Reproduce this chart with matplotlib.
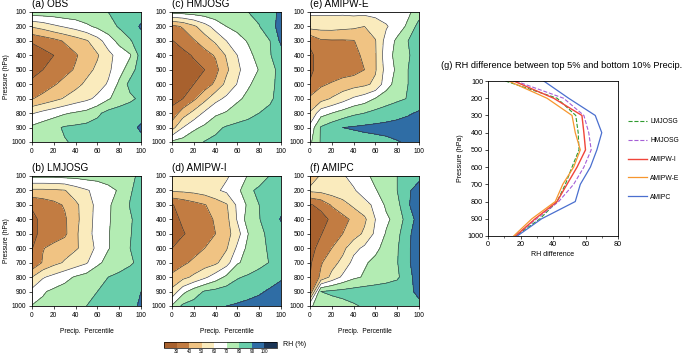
import numpy as np
import matplotlib
matplotlib.use('Agg')
import matplotlib.pyplot as plt
from matplotlib.colors import ListedColormap

plt.rcParams['font.family'] = ['Liberation Sans', 'DejaVu Sans']

# percentile bins and pressure levels
pct = [0, 10, 20, 30, 40, 50, 60, 70, 80, 90, 100]
lev = [100, 200, 300, 400, 500, 600, 700, 800, 900, 1000]

# RH (%) composites, one row per pressure level
rh_obs = [
    [76, 76, 76, 77, 77, 78, 78, 80, 83, 85, 86],
    [51, 54, 58, 61, 64, 68, 72, 76, 81, 86, 91],
    [31, 34, 37, 41, 45, 49, 56, 65, 73, 79, 86],
    [25, 27, 30, 35, 39, 44, 49, 57, 64, 69, 84],
    [27, 30, 33, 37, 41, 47, 52, 58, 66, 75, 86],
    [32, 35, 39, 43, 47, 52, 56, 61, 72, 83, 87],
    [39.5, 43, 47, 51, 55, 58, 62, 69, 74, 78, 82],
    [59, 63, 66, 69, 71, 73, 78, 83, 85, 86, 87],
    [72, 75, 78, 81, 82, 83, 84, 85, 86, 88, 91],
    [74, 76, 78, 79.5, 81, 83, 84, 85, 86, 87, 88],
]
rh_hmjosg = [
    [73, 74, 75, 76, 77, 78, 79, 80, 83, 87, 92],
    [37, 41, 48, 56, 64, 70, 73, 76, 79.5, 88, 92],
    [29.5, 34, 39, 45, 52, 60, 66, 71, 75, 80, 92],
    [25, 27, 31, 36, 41, 51, 60, 67, 74, 79.5, 85],
    [24, 25, 27, 30, 37, 48, 58, 65, 70.5, 75, 85],
    [25, 27, 30, 35, 42, 53, 60.5, 69, 73, 77, 84],
    [27, 30, 38, 47, 57, 62, 68.5, 72, 75, 78, 85],
    [33, 45, 53, 62, 68, 71, 74, 77, 80, 83, 86],
    [46, 60, 68, 72, 78, 81, 83, 84, 85, 86, 87],
    [72, 74, 77, 80.5, 82, 83, 84, 85, 86, 87, 88],
]
rh_amipwe = [
    [62, 62, 62, 62, 63, 63, 64, 65, 66, 68, 75],
    [54, 54, 54, 53, 52, 50, 54, 59, 65, 72, 84],
    [31, 38.5, 39, 39, 39.5, 45, 49.5, 64, 72, 80, 86],
    [29, 32, 34, 35, 37, 42, 49, 66, 73, 79, 85],
    [29, 32, 34, 35, 36, 40, 49, 64, 72, 80, 86],
    [30.5, 38.5, 41, 44, 46, 48, 52, 66, 74, 80, 85],
    [42, 46, 51, 56, 61.5, 65, 70.5, 75, 78, 80.5, 85],
    [51, 66, 70, 74, 78, 80, 83, 85, 87, 89, 91],
    [63, 81, 86, 90, 91, 92, 92.5, 93, 93.5, 94, 95],
    [68, 81, 83, 84, 85, 86, 87, 88, 89.5, 91, 92],
]
rh_lmjosg = [
    [72, 72, 72, 73, 73, 74, 74, 75, 77, 78, 82],
    [48, 48, 48.5, 49.5, 55, 59, 63, 67, 71, 79, 84],
    [31, 34, 37, 41, 48, 55, 63, 69, 73, 80.5, 85],
    [28, 32, 35, 38.5, 47, 56, 63, 69, 74, 79, 84],
    [28, 32, 35, 38, 48, 57, 63, 69.5, 74, 79.5, 84],
    [29.5, 39.5, 43, 46, 49, 53, 63, 69.5, 74, 80, 84],
    [31, 41, 47, 51, 55, 59, 68, 73, 76, 78.5, 83],
    [50, 59, 63, 67, 71, 74, 77, 80, 82, 85, 88],
    [63, 69, 72, 74, 76, 78, 80, 83, 86, 88, 90],
    [70.5, 72, 74, 76, 78, 80, 82, 84, 86, 88, 91],
]
rh_amipwi = [
    [55, 55, 55, 56, 57, 59, 63, 71, 75, 80.5, 83],
    [51.5, 52, 53, 55, 58.5, 62, 67, 78, 82, 85, 87],
    [29.5, 33, 36.5, 39.5, 44, 49, 62, 72, 80, 85, 88],
    [28, 31, 34, 37, 41, 47, 61, 75, 79.5, 86, 90.5],
    [26, 29.5, 32, 34, 40, 46, 56, 70, 77, 83, 87],
    [30, 33, 36, 40, 45, 49, 62, 73, 78, 81, 85],
    [35, 38, 42, 45, 48, 56, 69, 73, 77, 80.5, 84],
    [42, 47, 52, 58, 65, 72, 79, 81.5, 84, 87, 89],
    [53, 67, 75, 81, 83, 85, 86, 87.5, 89, 91, 93],
    [71, 82, 84, 86, 88, 90, 91, 92, 93, 94, 95],
]
rh_amipc = [
    [45, 51, 55, 59, 63, 68, 72, 76, 80, 84, 88],
    [52, 53, 55, 57, 59, 64, 69.5, 73, 80, 89, 93],
    [29, 33, 41, 46, 52, 57, 62, 72, 77, 89.5, 93],
    [23, 26, 32, 37, 42, 48, 60, 68, 74, 85, 94],
    [25, 29.5, 35, 40, 45, 52, 62, 71, 77, 88.5, 94],
    [27, 33, 40, 47, 57, 62, 68, 73, 79, 89, 94],
    [28.5, 39, 46, 53, 63, 69, 72, 76, 79.5, 89, 94],
    [30, 42, 53, 62, 68, 71, 73, 75, 78, 88, 93],
    [31, 80, 82, 83, 84, 85, 86, 87, 88, 89, 91],
    [69, 73, 75, 77, 79, 81, 83, 85, 87, 89, 89],
]

# (g) RH difference profiles
g_lev = [100, 200, 300, 400, 500, 600, 700, 800, 900, 1000]
d_lmjosg = [10.7, 42.5, 54, 55.5, 56, 51.7, 47.6, 42.5, 32, 17]
d_hmjosg = [17, 46.5, 59, 62, 63.5, 59, 52.7, 43.5, 30, 16.5]
d_amipwi = [15.8, 40.4, 57.8, 59, 60, 54.8, 48.6, 42.5, 29, 17]
d_amipwe = [12.7, 36.3, 51.7, 53.7, 56.8, 52.7, 46, 41.4, 27, 15.8]
d_amipc = [34.3, 49.6, 66, 70, 67, 63, 56.8, 53.7, 33, 18]

levels = [30, 40, 50, 60, 70, 80, 90, 100]
colors = ['#a8612e', '#c27c42', '#f0c383', '#faebbd', '#ffffff',
          '#b3ecb3', '#68ceab', '#2f6da5', '#1b3556']
cmap = ListedColormap(colors[1:-1])
cmap.set_under(colors[0])
cmap.set_over(colors[-1])

W, H = 685, 353
fig = plt.figure(figsize=(W / 100, H / 100), dpi=100)


def box(l, t, r, b):
    return [l / W, 1 - b / H, (r - l) / W, (b - t) / H]


panels = [
    ('(a) OBS', rh_obs, box(32, 12, 141, 142), True, False),
    ('(c) HMJOSG', rh_hmjosg, box(172, 12, 281, 142), False, False),
    ('(e) AMIPW-E', rh_amipwe, box(310, 12, 419, 142), False, False),
    ('(b) LMJOSG', rh_lmjosg, box(32, 176, 141, 306), True, True),
    ('(d) AMIPW-I', rh_amipwi, box(172, 176, 281, 306), False, True),
    ('(f) AMIPC', rh_amipc, box(310, 176, 419, 306), False, True),
]

X, Y = np.meshgrid(pct, lev)
for title, data, pos, ylab, xlab in panels:
    ax = fig.add_axes(pos)
    z = np.array(data)
    cs = ax.contourf(X, Y, z, levels=levels, cmap=cmap, extend='both')
    ax.contour(X, Y, z, levels=levels, colors='#333333', linewidths=0.45)
    ax.set_xlim(0, 100)
    ax.set_ylim(1000, 100)
    ax.set_xticks([0, 20, 40, 60, 80, 100])
    ax.set_yticks(lev)
    ax.tick_params(labelsize=4.8, length=2, width=0.5, pad=2)
    for s in ax.spines.values():
        s.set_linewidth(0.6)
    ax.text(0.0, 1.02, title, transform=ax.transAxes, fontsize=7.2,
            ha='left', va='bottom')
    if ylab:
        ax.set_ylabel('Pressure (hPa)', fontsize=4.8, labelpad=1.5)
    if xlab:
        ax.set_xlabel('Precip.  Percentile', fontsize=4.8, labelpad=7)

# colorbar
cax = fig.add_axes(box(164, 342, 277, 348))
cb = fig.colorbar(cs, cax=cax, orientation='horizontal', extend='both',
                  extendrect=True, extendfrac='auto', ticks=levels)
cb.ax.tick_params(labelsize=3.3, length=0, pad=0.8)
cb.outline.set_linewidth(0.5)
fig.text(283 / W, 1 - 345 / H, 'RH (%)', fontsize=5, va='center')

# (g) line plot
axg = fig.add_axes(box(488, 81, 618, 236))
axg.plot(d_lmjosg, g_lev, color='#2f9a2f', ls='--', lw=0.8, label='LMJOSG')
axg.plot(d_hmjosg, g_lev, color='#a55fd6', ls='--', lw=0.8, label='HMJOSG')
axg.plot(d_amipwi, g_lev, color='#f0453a', lw=1.0, label='AMIPW-I')
axg.plot(d_amipwe, g_lev, color='#f7962e', lw=0.9, label='AMIPW-E')
axg.plot(d_amipc, g_lev, color='#4a6fcf', lw=0.9, label='AMIPC')
axg.set_xlim(0, 80)
axg.set_ylim(1000, 100)
axg.set_xticks([0, 20, 40, 60, 80])
axg.set_xticks([10, 30, 50, 70], minor=True)
axg.set_yticks(g_lev)
axg.tick_params(labelsize=5.2, length=2, width=0.5, pad=1.5)
axg.tick_params(which='minor', length=1.2, width=0.4)
for s in axg.spines.values():
    s.set_linewidth(0.6)
axg.set_xlabel('RH difference', fontsize=5, labelpad=2)
axg.set_ylabel('Pressure (hPa)', fontsize=5, labelpad=2)
axg.legend(loc='upper left', bbox_to_anchor=(1.03, 0.8), frameon=False,
           fontsize=4.9, labelspacing=1.75, handlelength=2.8, handletextpad=0.5)
fig.text(441 / W, 1 - 65 / H,
         '(g) RH difference between top 5% and bottom 10% Precip.',
         fontsize=6.7, va='center')

fig.savefig('out.png', dpi=100)
